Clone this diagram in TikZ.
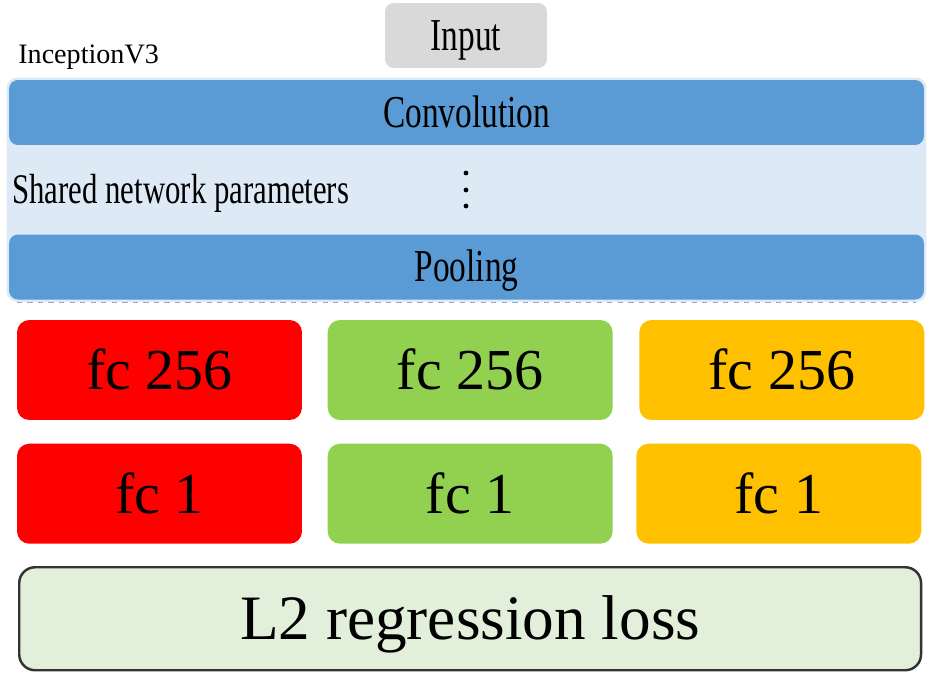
\documentclass[tikz,border=0pt]{standalone}
\usepackage{fontspec}
\setmainfont{Liberation Serif}
\newfontfamily\narrowfont[FakeStretch=0.73]{Liberation Serif}
\usetikzlibrary{
  backgrounds,
  fit,
  positioning,
}
\definecolor{inputgray}{HTML}{D9D9D9}
\definecolor{layerblue}{HTML}{5B9BD5}
\definecolor{sharedblue}{HTML}{DDEAF6}
\definecolor{rimblue}{HTML}{8FA9C4}
\definecolor{headred}{HTML}{FF0000}
\definecolor{headgreen}{HTML}{92D050}
\definecolor{headorange}{HTML}{FFC000}
\definecolor{lossgreen}{HTML}{E2EFDA}
\tikzset{
  inputbox/.style={
    rectangle,
    rounded corners=5pt,
    minimum width=3.24cm,
    minimum height=1.3cm,
    text height=17pt,
    text depth=0pt,
    fill=inputgray,
    font=\narrowfont\fontsize{26}{28}\selectfont
  },
  layer/.style={
    rectangle,
    rounded corners=5pt,
    minimum width=18.3cm,
    minimum height=1.3cm,
    text height=17pt,
    text depth=0pt,
    fill=layerblue,
    font=\narrowfont\fontsize{26}{28}\selectfont
  },
  head/.style={
    rectangle,
    rounded corners=7pt,
    minimum width=5.7cm,
    minimum height=2cm,
    text height=22pt,
    text depth=0pt,
    font=\fontsize{33}{36}\selectfont
  },
  loss/.style={
    rectangle,
    rounded corners=9pt,
    minimum width=18.04cm,
    minimum height=2.06cm,
    text height=24pt,
    text depth=0pt,
    draw=black!80,
    line width=1.4pt,
    fill=lossgreen,
    font=\fontsize{36}{40}\selectfont
  },
}

\begin{document}
\begin{tikzpicture}[x=0.02cm, y=-0.02cm]

  \useasboundingbox (0,0) rectangle (936,687);

  % Input and backbone
  \node (input) [inputbox] at (466,35.5) {Input};
  \node (title) [anchor=base west, inner sep=0pt,
    font=\fontsize{16}{18}\selectfont] at (18,63) {InceptionV3};

  \node (conv) [layer] at (466.5,112.5) {Convolution};
  \node (pool) [layer] at (466.5,267) {Pooling};
  \node (shared) [anchor=west, inner sep=0pt,
    font=\narrowfont\fontsize{24}{26}\selectfont] at (12,193) {Shared network parameters};
  \foreach \y in {173,190,206}
    \fill (466,\y) circle (2.4);

  \begin{scope}[on background layer]
    \node (backbone) [rectangle, rounded corners=6pt, fill=sharedblue,
    fit=(conv)(pool), inner sep=1.2pt] {};
    \draw [rimblue, dashed, thin]
    ([xshift=6pt]backbone.south west) -- ([xshift=-6pt]backbone.south east);
  \end{scope}

  % Regression heads
  \node (red256) [head, fill=headred] at (159.5,370) {fc 256};
  \node (green256) [head, fill=headgreen, right=0.5cm of red256] {fc 256};
  \node (orange256) [head, fill=headorange, right=0.52cm of green256] {fc 256};

  \node (red1) [head, fill=headred, below=0.46cm of red256] {fc 1};
  \node (green1) [head, fill=headgreen, below=0.46cm of green256] {fc 1};
  \node (orange1) [head, fill=headorange, below=0.46cm of orange256, xshift=-0.06cm] {fc 1};

  % Loss
  \node (l2) [loss, below=0.44cm of green1] {L2 regression loss};

\end{tikzpicture}
\end{document}
